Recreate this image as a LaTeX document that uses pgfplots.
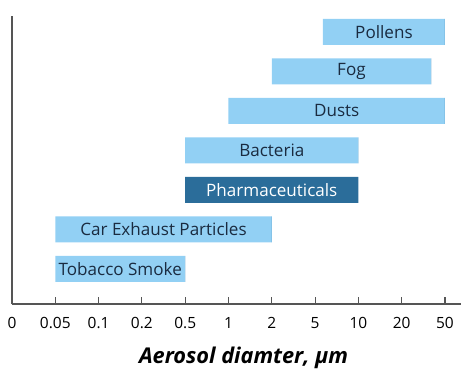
\documentclass[border=0pt]{standalone}
\usepackage{pgfplots}
\pgfplotsset{compat=1.18}
\usepackage{pgfplotstable}
\usepackage{fontspec}
\setmainfont{Open Sans}
\definecolor{lightbar}{HTML}{92D0F4}
\definecolor{darkbar}{HTML}{2B6D9A}
\definecolor{txt}{HTML}{1A2B40}
\definecolor{axgray}{HTML}{555555}

\pgfplotstableread{
y start light dark
1 1 3 0
2 1 5 0
3 4 0 4
4 4 4 0
5 5 5 0
6 6 3.68 0
7 7.18 2.82 0
}\bars

\pgfplotstableread[col sep=comma]{
x,y,label
2.5,1,Tobacco Smoke
3.5,2,Car Exhaust Particles
6,4,Bacteria
7.5,5,Dusts
7.84,6,Fog
8.59,7,Pollens
}\labels

\pgfplotstableread[col sep=comma]{
x,y,label
6,3,Pharmaceuticals
}\darklabels

\begin{document}
\begin{tikzpicture}
\useasboundingbox (-9pt,-56.25pt) rectangle (346.5pt,228pt);
\begin{axis}[
  scale only axis,
  width=336.75pt, height=216pt,
  xmin=0, xmax=10.37,
  ymin=0.11, ymax=7.4,
  axis x line=bottom, axis y line=left,
  axis line style={-, axgray, line width=0.8pt},
  xtick={0,1,2,3,4,5,6,7,8,9,10},
  xticklabels={0,0.05,0.1,0.2,0.5,1,2,5,10,20,50},
  ytick=\empty,
  tick style={axgray, line width=0.8pt},
  tick align=inside,
  major tick length=5.25pt,
  /pgf/number format/assume math mode=true,
  xticklabel style={font=\fontsize{11.6}{14}\selectfont, text=black, yshift=-6.5pt},
  xlabel={\bfseries\itshape Aerosol diamter, μm},
  xlabel style={font=\fontsize{16.3}{19}\selectfont, text=black, xshift=5.25pt, yshift=-6.5pt},
  bar width=0.66,
]
\addplot[xbar, stack plots=x, draw=none, fill=none, forget plot] table[x=start, y=y] {\bars};
\addplot[xbar, stack plots=x, draw=none, fill=lightbar] table[x=light, y=y] {\bars};
\addplot[xbar, stack plots=x, draw=none, fill=darkbar] table[x=dark, y=y] {\bars};
\addplot[stack plots=false, draw=none, mark=none, nodes near coords, point meta=explicit symbolic,
  every node near coord/.append style={anchor=center, font=\fontsize{12.8}{15}\selectfont, text=txt}]
  table[x=x, y=y, meta=label] {\labels};
\addplot[stack plots=false, draw=none, mark=none, nodes near coords, point meta=explicit symbolic,
  every node near coord/.append style={anchor=center, font=\fontsize{12.8}{15}\selectfont, text=white}]
  table[x=x, y=y, meta=label] {\darklabels};
\end{axis}
\end{tikzpicture}
\end{document}
